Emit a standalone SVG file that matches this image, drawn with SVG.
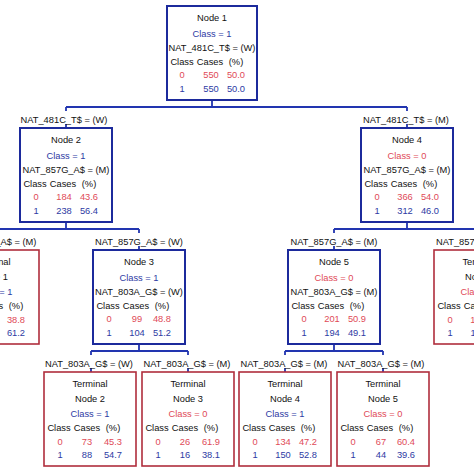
<svg xmlns="http://www.w3.org/2000/svg" width="474" height="474" viewBox="0 0 474 474">
<style>
text{font-family:"Liberation Sans",Arial,sans-serif;font-size:9.3px;text-anchor:middle;fill:#111}
.b{fill:#2d3aa3}
.r{fill:#e04a57}
.nb{fill:#fff;stroke:#1c2a9c;stroke-width:2}
.nr{fill:#fff;stroke:#b02d3c;stroke-width:1.6}
.c{fill:none;stroke:#2235b0;stroke-width:1.8}
</style>
<rect width="474" height="474" fill="#fff"/>
<g id="connectors" class="c">
<path d="M212,100V107M66,107H407M66,107V111M407,107V111M66,124V128M407,124V128"/>
<path d="M66,222V229M-7,229H139M-7,229V233M139,229V233M-7,246V250M139,246V250"/>
<path d="M407,222V229M334,229H480M334,229V233M480,229V233M334,246V250M480,246V250"/>
<path d="M139,344V351M91,351H188M91,351V355M188,351V355M91,368V372M188,368V372"/>
<path d="M334,344V351M285,351H383M285,351V355M383,351V355M285,368V372M383,368V372"/>
</g>
<g id="labels">
<text x="64" y="122.5">NAT_481C_T$ = (W)</text>
<text x="406" y="122.5">NAT_481C_T$ = (M)</text>
<text x="-7" y="244.5">NAT_857G_A$ = (M)</text>
<text x="139" y="244.5">NAT_857G_A$ = (W)</text>
<text x="334" y="244.5">NAT_857G_A$ = (M)</text>
<text x="480" y="244.5">NAT_857G_A$ = (W)</text>
<text x="89" y="366.5">NAT_803A_G$ = (W)</text>
<text x="187" y="366.5">NAT_803A_G$ = (M)</text>
<text x="284" y="366.5">NAT_803A_G$ = (M)</text>
<text x="381" y="366.5">NAT_803A_G$ = (M)</text>
</g>
<g id="node1">
<rect class="nb" x="167" y="6" width="90" height="94"/>
<text x="212" y="20.5">Node 1</text>
<text x="212" y="36.5" class="b">Class = 1</text>
<text x="212" y="50.5">NAT_481C_T$ = (W)</text>
<text x="182" y="64.5">Class</text><text x="210" y="64.5">Cases</text><text x="236" y="64.5">(%)</text>
<text x="182" y="77.5" class="r">0</text><text x="211" y="77.5" class="r">550</text><text x="236" y="77.5" class="r">50.0</text>
<text x="182" y="91.5" class="b">1</text><text x="211" y="91.5" class="b">550</text><text x="236" y="91.5" class="b">50.0</text>
</g>
<g id="node2">
<rect class="nb" x="20" y="128" width="92" height="94"/>
<text x="66" y="142.5">Node 2</text>
<text x="66" y="158.5" class="b">Class = 1</text>
<text x="66" y="172.5">NAT_857G_A$ = (M)</text>
<text x="35" y="186.5">Class</text><text x="63" y="186.5">Cases</text><text x="89" y="186.5">(%)</text>
<text x="36" y="199.5" class="r">0</text><text x="64" y="199.5" class="r">184</text><text x="89" y="199.5" class="r">43.6</text>
<text x="36" y="213.5" class="b">1</text><text x="64" y="213.5" class="b">238</text><text x="89" y="213.5" class="b">56.4</text>
</g>
<g id="node4">
<rect class="nr" x="361" y="128" width="92" height="94" style="stroke:#1c2a9c;stroke-width:2"/>
<text x="407" y="142.5">Node 4</text>
<text x="407" y="158.5" class="r">Class = 0</text>
<text x="407" y="172.5">NAT_857G_A$ = (M)</text>
<text x="376" y="186.5">Class</text><text x="404" y="186.5">Cases</text><text x="430" y="186.5">(%)</text>
<text x="377" y="199.5" class="r">0</text><text x="405" y="199.5" class="r">366</text><text x="430" y="199.5" class="r">54.0</text>
<text x="377" y="213.5" class="b">1</text><text x="405" y="213.5" class="b">312</text><text x="430" y="213.5" class="b">46.0</text>
</g>
<g id="terminal1">
<rect class="nr" x="-53" y="250" width="92" height="94"/>
<text x="-7" y="264.5">Terminal</text>
<text x="-7" y="279.5">Node 1</text>
<text x="-7" y="294.5" class="b">Class = 1</text>
<text x="-38" y="308.5">Class</text><text x="-10" y="308.5">Cases</text><text x="16" y="308.5">(%)</text>
<text x="-37" y="322.5" class="r">0</text><text x="-9" y="322.5" class="r">85</text><text x="16" y="322.5" class="r">38.8</text>
<text x="-37" y="335.5" class="b">1</text><text x="-9" y="335.5" class="b">134</text><text x="16" y="335.5" class="b">61.2</text>
</g>
<g id="node3">
<rect class="nb" x="93" y="250" width="92" height="94"/>
<text x="139" y="264.5">Node 3</text>
<text x="139" y="280.5" class="b">Class = 1</text>
<text x="139" y="294.5">NAT_803A_G$ = (W)</text>
<text x="108" y="308.5">Class</text><text x="136" y="308.5">Cases</text><text x="162" y="308.5">(%)</text>
<text x="109" y="321.5" class="r">0</text><text x="137" y="321.5" class="r">99</text><text x="162" y="321.5" class="r">48.8</text>
<text x="109" y="335.5" class="b">1</text><text x="137" y="335.5" class="b">104</text><text x="162" y="335.5" class="b">51.2</text>
</g>
<g id="node5">
<rect class="nb" x="288" y="250" width="92" height="94"/>
<text x="334" y="264.5">Node 5</text>
<text x="334" y="280.5" class="r">Class = 0</text>
<text x="334" y="294.5">NAT_803A_G$ = (M)</text>
<text x="303" y="308.5">Class</text><text x="331" y="308.5">Cases</text><text x="357" y="308.5">(%)</text>
<text x="304" y="321.5" class="r">0</text><text x="332" y="321.5" class="r">201</text><text x="357" y="321.5" class="r">50.9</text>
<text x="304" y="335.5" class="b">1</text><text x="332" y="335.5" class="b">194</text><text x="357" y="335.5" class="b">49.1</text>
</g>
<g id="terminal6">
<rect class="nr" x="434" y="250" width="92" height="94"/>
<text x="480" y="264.5">Terminal</text>
<text x="480" y="279.5">Node 6</text>
<text x="480" y="294.5" class="r">Class = 0</text>
<text x="449" y="308.5">Class</text><text x="477" y="308.5">Cases</text><text x="503" y="308.5">(%)</text>
<text x="450" y="322.5" class="r">0</text><text x="478" y="322.5" class="r">165</text><text x="503" y="322.5" class="r">58.3</text>
<text x="450" y="335.5" class="b">1</text><text x="478" y="335.5" class="b">118</text><text x="503" y="335.5" class="b">41.7</text>
</g>
<g id="terminal2">
<rect class="nr" x="44" y="372" width="92" height="94"/>
<text x="90" y="386.5">Terminal</text>
<text x="90" y="401.5">Node 2</text>
<text x="90" y="416.5" class="b">Class = 1</text>
<text x="59" y="430.5">Class</text><text x="87" y="430.5">Cases</text><text x="113" y="430.5">(%)</text>
<text x="60" y="444.5" class="r">0</text><text x="87" y="444.5" class="r">73</text><text x="113" y="444.5" class="r">45.3</text>
<text x="60" y="457.5" class="b">1</text><text x="87" y="457.5" class="b">88</text><text x="113" y="457.5" class="b">54.7</text>
</g>
<g id="terminal3">
<rect class="nr" x="142" y="372" width="92" height="94"/>
<text x="188" y="386.5">Terminal</text>
<text x="188" y="401.5">Node 3</text>
<text x="188" y="416.5" class="r">Class = 0</text>
<text x="157" y="430.5">Class</text><text x="185" y="430.5">Cases</text><text x="211" y="430.5">(%)</text>
<text x="158" y="444.5" class="r">0</text><text x="185" y="444.5" class="r">26</text><text x="211" y="444.5" class="r">61.9</text>
<text x="158" y="457.5" class="b">1</text><text x="185" y="457.5" class="b">16</text><text x="211" y="457.5" class="b">38.1</text>
</g>
<g id="terminal4">
<rect class="nr" x="239" y="372" width="92" height="94"/>
<text x="285" y="386.5">Terminal</text>
<text x="285" y="401.5">Node 4</text>
<text x="285" y="416.5" class="b">Class = 1</text>
<text x="254" y="430.5">Class</text><text x="282" y="430.5">Cases</text><text x="308" y="430.5">(%)</text>
<text x="255" y="444.5" class="r">0</text><text x="283" y="444.5" class="r">134</text><text x="308" y="444.5" class="r">47.2</text>
<text x="255" y="457.5" class="b">1</text><text x="283" y="457.5" class="b">150</text><text x="308" y="457.5" class="b">52.8</text>
</g>
<g id="terminal5">
<rect class="nr" x="337" y="372" width="92" height="94"/>
<text x="383" y="386.5">Terminal</text>
<text x="383" y="401.5">Node 5</text>
<text x="383" y="416.5" class="r">Class = 0</text>
<text x="352" y="430.5">Class</text><text x="380" y="430.5">Cases</text><text x="406" y="430.5">(%)</text>
<text x="353" y="444.5" class="r">0</text><text x="381" y="444.5" class="r">67</text><text x="406" y="444.5" class="r">60.4</text>
<text x="353" y="457.5" class="b">1</text><text x="381" y="457.5" class="b">44</text><text x="406" y="457.5" class="b">39.6</text>
</g>
</svg>
